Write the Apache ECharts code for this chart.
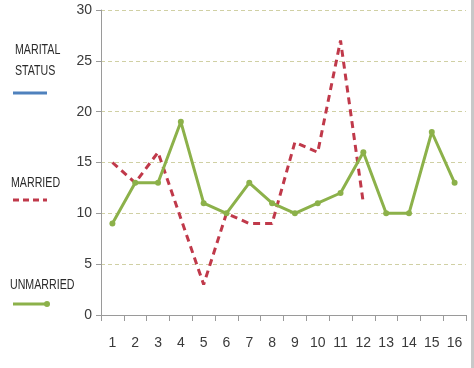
<!DOCTYPE html>
<html><head><meta charset="utf-8">
<script src="https://cdn.jsdelivr.net/npm/echarts@6/dist/echarts.min.js"></script>
<style>html,body{margin:0;padding:0;background:#fff}#c{width:474px;height:368px}</style>
</head><body><div id="c"></div>
<script>
var categories = ['1','2','3','4','5','6','7','8','9','10','11','12','13','14','15','16'];
var married = [15, 13, 16, 9.5, 3, 10, 9, 9, 17, 16, 27, 11, null, null, null, null];
var unmarried = [9, 13, 13, 19, 11, 10, 13, 11, 10, 11, 12, 16, 10, 10, 18, 13];
var maritalStatus = [];
var legendNames = ['MARITAL', 'STATUS', 'MARRIED', 'UNMARRIED'];

var NARROW = "'Liberation Sans Narrow',sans-serif";
var REG = "'Liberation Sans',sans-serif";
function legText(s, x, y) {
  return {type: 'text', x: x, y: y, scaleX: 0.76,
    style: {text: s, fontSize: 14, fontFamily: REG, fill: '#2a2a2a', verticalAlign: 'top', align: 'left'}};
}
var chart = echarts.init(document.getElementById('c'), null, {renderer: 'canvas'});
chart.setOption({
  animation: false,
  backgroundColor: '#fff',
  grid: {left: 101, right: 8, top: 10, bottom: 53, containLabel: false},
  xAxis: {
    type: 'category', data: categories, boundaryGap: true,
    axisLine: {lineStyle: {color: '#9a9a9a', width: 1}},
    axisTick: {show: true, length: 6, lineStyle: {color: '#9a9a9a'}},
    axisLabel: {color: '#3a3a3a', fontSize: 14, fontFamily: NARROW, margin: 21}
  },
  yAxis: {
    type: 'value', min: 0, max: 30, interval: 5,
    axisLine: {show: true, lineStyle: {color: '#9a9a9a', width: 1}},
    axisTick: {show: true, length: 5, lineStyle: {color: '#9a9a9a'}},
    axisLabel: {color: '#3a3a3a', fontSize: 14, fontFamily: REG, margin: 9},
    splitLine: {show: true, lineStyle: {color: '#d0d0a4', type: [4, 3], width: 1}}
  },
  series: [
    {name: 'MARITAL STATUS', type: 'line', data: maritalStatus, lineStyle: {color: '#4f81bd'}},
    {name: 'MARRIED', type: 'line', data: married, showSymbol: false, connectNulls: false,
     lineStyle: {color: '#c0394a', width: 3, type: [7, 5]}, itemStyle: {color: '#c0394a'}, z: 2},
    {name: 'UNMARRIED', type: 'line', data: unmarried, symbol: 'circle', symbolSize: 6,
     lineStyle: {color: '#8cb14a', width: 3}, itemStyle: {color: '#8cb14a'}, z: 3}
  ],
  graphic: [
    legText(legendNames[0], 15, 43),
    legText(legendNames[1], 15, 64),
    {type: 'line', shape: {x1: 13, y1: 93, x2: 47, y2: 93}, style: {stroke: '#4f81bd', lineWidth: 3}},
    legText(legendNames[2], 11, 176),
    {type: 'line', shape: {x1: 13, y1: 200, x2: 47, y2: 200}, style: {stroke: '#c0394a', lineWidth: 3, lineDash: [6, 4]}},
    legText(legendNames[3], 10, 278),
    {type: 'line', shape: {x1: 13, y1: 304, x2: 47, y2: 304}, style: {stroke: '#8cb14a', lineWidth: 3}},
    {type: 'circle', shape: {cx: 47, cy: 304, r: 3}, style: {fill: '#8cb14a'}},
    {type: 'rect', shape: {x: 471, y: 0, width: 3, height: 368}, style: {fill: '#c8c8c8'}}
  ]
});
</script></body></html>
